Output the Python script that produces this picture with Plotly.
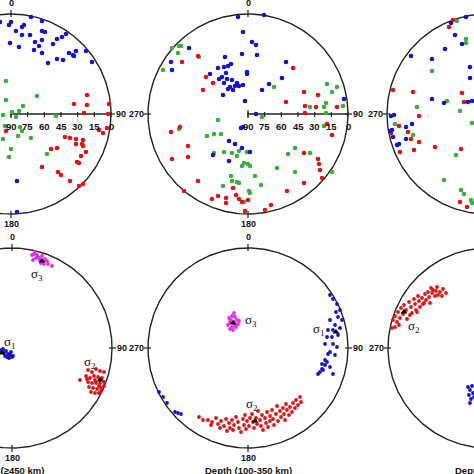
import numpy as np
import plotly.graph_objects as go

# ---------------- data: points in stereonet units (east, north), % of primitive radius ----------
TL_BLUE = [(-11,92),(-2,89),(0,92),(5,83),(11,87),(13,89),(20,97),(31,93),(31,83),(34,82),(11,79),(19,79),
           (24,72),(31,74),(28,68),(23,64),(31,61),(-1,71),(8,67),(42,70),(46,75),(51,77),(55,80),(58,61),
           (62,59),(65,63),(63,58),(75,63),(37,51),(46,55),(52,54),(81,52),(6,-67),(6,-98)]
TL_GREEN = [(-5,33),(-5,14),(26,18),(12,8),(8,3),(1,2),(5,-3),(-8,-1),(45,-2),(-6,-12),(9,-13),(11,-17),
            (7,-22),(20,-24),(-8,-25),(0,-35),(-2,-43),(36,-40)]
TL_RED = [(76,19),(63,10),(76,9),(98,10),(73,1),(97,0),(-5,-17),(88,-16),(92,-19),(96,-14),(54,-23),(59,-24),
          (65,-25),(72,-26),(65,-30),(71,-30),(72,-32),(75,-38),(70,-42),(40,-35),(46,-34),(66,-48),(68,-49),
          (31,-53),(47,-58),(50,-61),(59,-67),(68,-72),(72,-70)]

TM_BLUE = [(-10,97),(16,99),(-5,82),(4,72),(8,69),(-6,60),(9,59),(-59,66),(-23,57),(-77,52),(-76,44),(-17,50),
           (-20,48),(-24,47),(-30,46),(-38,40),(-22,41),(-26,37),(-29,35),(-21,35),(-24,31),(-16,34),(-11,31),
           (-13,28),(-5,29),(-9,28),(-18,27),(-20,25),(-1,42),(-1,40),(-15,24),(-25,19),(-3,13),(38,52),(34,36),
           (21,30),(14,24),(8,0),(-7,-14),(-5,-13),(-19,-27),(-13,-30),(-6,-34),(-35,-41),(-19,-47),(2,-38),(96,15)]
TM_GREEN = [(-76,66),(-69,68),(-67,68),(-70,61),(-49,57),(-85,44),(26,27),(79,30),(62,7),(76,7),(78,1),(14,-3),
            (-30,-6),(-69,-15),(-41,-22),(-34,-20),(-27,-20),(-24,-38),(-16,-39),(-9,-37),(-11,-42),(-1,-38),
            (-34,-39),(-4,-49),(0,-50),(2,-52),(-6,-52),(7,-62),(29,-54),(13,-71),(-17,-62),(-16,-67),(-11,-68),
            (-9,-69),(-25,-72),(1,-77),(2,-79),(-4,-88),(47,-34),(40,-40),(47,-58),(62,-39),(76,-12),(84,22),
            (89,27),(78,11),(95,8),(84,-58)]
TM_RED = [(-50,58),(-66,52),(-42,37),(-35,31),(-45,24),(45,46),(56,22),(70,19),(38,12),(68,7),(57,8),(57,1),
          (-68,-13),(-77,-18),(-60,-32),(-60,-43),(-76,-45),(-50,-67),(-64,-77),(-36,-85),(-30,-82),(-22,-84),
          (-22,-89),(-15,-74),(-12,-81),(-9,-85),(-6,-88),(0,-86),(-3,-97),(17,-96),(23,-91),(39,-77),(56,-69),
          (56,-39),(70,-45),(71,-50),(74,-64),(72,-56),(89,7),(84,-21),(79,-10)]

TR_BLUE = [(-21,97),(-36,91),(-32,79),(-25,70),(-42,65),(-76,58),(-55,55),(-17,47),(-17,36),(-55,15),(-43,11),
           (-19,12),(-15,13),(-96,-2),(-93,-1),(-95,-16),(-97,-17),(-94,-23),(-90,-31),(-88,-30),(-81,-13),
           (-75,-10),(-81,-25)]
TR_GREEN = [(-30,93),(-21,75),(-21,71),(-55,43),(-40,13),(-70,7),(-27,3),(-15,-9),(-92,-10),(-74,-21),(-31,-41),
            (-43,-66),(-26,-76),(-16,-86),(-15,-89),(-23,-80)]
TR_RED = [(-34,94),(-38,87),(-94,24),(-74,22),(-25,21),(-23,12),(-68,-2),(-88,-12),(-96,-19),(-79,-18),(-76,-25),
          (-68,-28),(-87,-38),(-73,-36),(-52,-33),(-26,-35),(-27,-88),(-20,-93)]

BL_S3 = [(20,93),(22,94),(25,93),(26,91),(21,88),(28,88),(31,86),(35,87),(33,89),(30,92),(40,82),(27,90),(24,90),
         (29,85),(32,84),(23,96),(36,84)]
BL_S1 = [(-12,-2),(-10,-4),(-8,-5),(-6,-3),(-4,-6),(-2,-7),(0,-9),(-3,-10),(-7,-8),(-1,-4),(-9,-1),(-5,-9),(1,-8),
         (-15,-1),(-18,0),(-20,1),(-16,-3)]
BL_S2 = [(68,-32),(76,-22),(80,-24),(84,-21),(88,-23),(92,-24),(74,-28),(78,-30),(82,-28),(86,-29),(90,-30),
         (76,-34),(80,-35),(84,-35),(88,-35),(92,-34),(77,-39),(81,-40),(85,-41),(89,-40),(92,-38),(79,-44),
         (83,-45),(87,-45),(89,-43),(75,-31),(83,-32),(87,-38)]
BL_MEAN = {"s1": (-10,-5), "s2": (88,-32), "s3": (30,87)}

BM_S3 = [(-19,30),(-16,32),(-13,31),(-11,28),(-18,26),(-14,26),(-10,24),(-20,23),(-16,21),(-12,21),(-15,18),
         (-17,28),(-13,23),(-9,27),(-18,19),(-14,35)]
BM_S1 = [(82,53),(85,49),(89,44),(92,38),(90,31),(94,28),(87,23),(85,18),(90,13),(84,11),(85,4),(89,1),(82,-4),
         (87,-7),(79,-14),(77,-17),(82,-19),(74,-21),(85,-26),(72,-24),(70,-26),(75,-22),(74,-16),(77,-12),
         (80,-6),(77,4),(79,11),(82,28),(88,36),(80,18),(92,20),
         (-89,-44),(-85,-49),(-81,-55),(-73,-64),(-70,-65),(-67,-66)]
BM_S2 = [(-40,-72),(-36,-74),(-37,-77),(-32,-70),(-30,-76),(-27,-73),(-28,-80),(-24,-78),(-22,-71),(-21,-83),
         (-19,-75),(-18,-80),(-16,-72),(-14,-77),(-15,-82),(-12,-69),(-10,-74),(-9,-80),(-7,-84),(-5,-71),
         (-4,-77),(-3,-67),(-1,-73),(-2,-81),(1,-78),(2,-70),(4,-66),(5,-74),(6,-80),(8,-70),(9,-76),(10,-63),
         (12,-72),(13,-78),(14,-67),(15,-82),(17,-70),(18,-75),(19,-64),(20,-79),(22,-68),(22,-73),(24,-62),
         (25,-71),(26,-77),(28,-66),(29,-58),(30,-73),(32,-63),(33,-69),(35,-60),(36,-66),(37,-72),(38,-56),
         (39,-62),(41,-67),(42,-59),(44,-64),(45,-55),(47,-60),(48,-52),(50,-57),(52,-49),(53,-54),(-49,-69),
         (-45,-72)]
BM_MEAN = {"s1": (88,16), "s2": (7,-73), "s3": (-15,25)}

BR_S2 = [(-96,20),(-95,28),(-93,32),(-91,26),(-90,36),(-88,30),(-87,40),(-85,34),(-84,43),(-82,38),(-81,29),
         (-79,46),(-77,41),(-76,35),(-74,49),(-73,44),(-72,38),(-70,52),(-69,47),(-68,41),(-66,50),(-65,44),
         (-63,54),(-62,48),(-60,56),(-59,51),(-58,45),(-56,55),(-55,58),(-53,52),(-52,57),(-50,53),(-48,56),
         (-46,52),(-45,59),(-93,21),(-89,23),(-78,33),(-71,36),(-64,45),(-57,60),(-51,61),(-42,55)]
BR_S1 = [(-20,-39),(-18,-42),(-16,-38),(-19,-47),(-17,-51),(-15,-45),(-18,-55),(-14,-49)]
BR_MEAN = {"s2": (-84,36)}

DIP_TICKS = [90, 75, 60, 45, 30, 15, 0]
DEPTH_LABELS = {"bl": "Depth (≥450 km)", "bm": "Depth (100-350 km)", "br": "Depth (350-450 km)"}

# ---------------- layout constants ----------------
R = 100
CENTERS = {"tl": (11, 114), "tm": (248, 114), "tr": (487, 114),
           "bl": (12, 348), "bm": (248, 348), "br": (488, 348)}
BLUE, RED, GREEN, MAG = "#1414c8", "#e01414", "#3cae3c", "#e030e0"
LBL = dict(family="Liberation Sans, Arial", size=9, color="#111")

def px(panel, pts):
    cx, cy = CENTERS[panel]
    a = np.array(pts, dtype=float)
    return cx + R * a[:, 0] / 100.0, cy - R * a[:, 1] / 100.0

fig = go.Figure()
ann = []

th = np.linspace(0, 2 * np.pi, 361)
for key, (cx, cy) in CENTERS.items():
    fig.add_trace(go.Scatter(x=cx + R * np.cos(th), y=cy + R * np.sin(th), mode="lines",
                             line=dict(color="#222", width=1.4), hoverinfo="skip"))
    tx, ty = [], []
    for dx, dy in [(0, -1), (0, 1), (1, 0), (-1, 0)]:
        tx += [cx + dx * (R - 3), cx + dx * (R + 4), None]
        ty += [cy + dy * (R - 3), cy + dy * (R + 4), None]
    fig.add_trace(go.Scatter(x=tx, y=ty, mode="lines", line=dict(color="#222", width=1.2), hoverinfo="skip"))
    for text, x, y in [("0", cx, cy - R - 11), ("180", cx, cy + R + 10),
                       ("90", cx + R + 10, cy), ("270", cx - R - 12, cy)]:
        ann.append(dict(x=x, y=y, text="<b>%s</b>" % text, showarrow=False, xref="x", yref="y",
                        xanchor="center", yanchor="middle", font=LBL))

# dip scale on top row
for key in ["tl", "tm", "tr"]:
    cx, cy = CENTERS[key]
    fig.add_trace(go.Scatter(x=[cx, cx + R], y=[cy, cy], mode="lines",
                             line=dict(color="#222", width=1.4), hoverinfo="skip"))
    tx, ty = [], []
    for d in DIP_TICKS:
        x = cx + R * (90 - d) / 90.0
        tx += [x, x, None]
        ty += [cy - 2, cy + 3, None]
        ann.append(dict(x=x, y=cy + 12, text="<b>%d</b>" % d, showarrow=False, xref="x", yref="y",
                        xanchor="center", yanchor="middle", font=dict(LBL, size=9.5)))
    tx += [cx, cx, None]
    ty += [cy - 4, cy + 4, None]
    fig.add_trace(go.Scatter(x=tx, y=ty, mode="lines", line=dict(color="#222", width=1.2), hoverinfo="skip"))

def dots(panel, pts, color, size):
    x, y = px(panel, pts)
    fig.add_trace(go.Scatter(x=x, y=y, mode="markers",
                             marker=dict(color=color, size=size, line=dict(width=0))))

for panel, b, g, r in [("tl", TL_BLUE, TL_GREEN, TL_RED), ("tm", TM_BLUE, TM_GREEN, TM_RED),
                       ("tr", TR_BLUE, TR_GREEN, TR_RED)]:
    dots(panel, g, GREEN, 4.6)
    dots(panel, r, RED, 4.6)
    dots(panel, b, BLUE, 4.6)

for panel, groups, means in [("bl", [(BL_S3, MAG), (BL_S1, BLUE), (BL_S2, RED)], BL_MEAN),
                             ("bm", [(BM_S3, MAG), (BM_S1, BLUE), (BM_S2, RED)], BM_MEAN),
                             ("br", [(BR_S2, RED), (BR_S1, BLUE)], BR_MEAN)]:
    for pts, col in groups:
        dots(panel, pts, col, 3.8)
    mx, my = px(panel, list(means.values()))
    fig.add_trace(go.Scatter(x=mx, y=my, mode="markers",
                             marker=dict(symbol="triangle-up", color="black", size=6, line=dict(width=0))))

SIG = dict(family="Liberation Serif, Times New Roman", size=13, color="#111")
SIGMA_POS = [("bl", "σ<sub>3</sub>", (25, 74)), ("bl", "σ<sub>1</sub>", (-2, 6)), ("bl", "σ<sub>2</sub>", (78, -14)),
             ("bm", "σ<sub>3</sub>", (3, 28)), ("bm", "σ<sub>1</sub>", (71, 19)), ("bm", "σ<sub>2</sub>", (4, -56)),
             ("br", "σ<sub>2</sub>", (-74, 22))]
for panel, txt, (e, n) in SIGMA_POS:
    cx, cy = CENTERS[panel]
    ann.append(dict(x=cx + R * e / 100.0, y=cy - R * n / 100.0, text=txt, showarrow=False, xref="x", yref="y",
                    xanchor="center", yanchor="middle", font=SIG))

ann.append(dict(x=46, y=470, text="<b>%s</b>" % DEPTH_LABELS["bl"], showarrow=False, xref="x", yref="y",
                xanchor="right", yanchor="middle", font=dict(LBL, size=9.5)))
ann.append(dict(x=248, y=470, text="<b>%s</b>" % DEPTH_LABELS["bm"], showarrow=False, xref="x", yref="y",
                xanchor="center", yanchor="middle", font=dict(LBL, size=9.5)))
ann.append(dict(x=453, y=470, text="<b>%s</b>" % DEPTH_LABELS["br"], showarrow=False, xref="x", yref="y",
                xanchor="left", yanchor="middle", font=dict(LBL, size=9.5)))

fig.update_layout(width=474, height=474, margin=dict(l=0, r=0, t=0, b=0), showlegend=False,
                  paper_bgcolor="white", plot_bgcolor="white", annotations=ann,
                  xaxis=dict(range=[0, 474], visible=False, fixedrange=True),
                  yaxis=dict(range=[474, 0], visible=False, fixedrange=True))
fig.write_html("out.html")
